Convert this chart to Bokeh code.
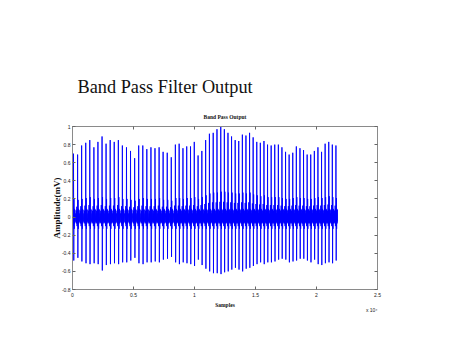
from bokeh.plotting import figure
from bokeh.models import Range1d, LinearAxis, Title, FixedTicker
from bokeh.embed import file_html
from bokeh.resources import INLINE

# ---- data ----
beat_pos = [82, 418, 748, 1086, 1416, 1754, 2084, 2422, 2752, 3090, 3420, 3758, 4088,
            4426, 4756, 5094, 5424, 5762, 6092, 6430, 6760, 7098, 7428, 7766, 8096, 8432,
            8742, 9054, 9362, 9674, 9982, 10294, 10602, 10914, 11222, 11534, 11842, 12152,
            12447, 12744, 13037, 13334, 13627, 13924, 14217, 14514, 14807, 15104, 15397,
            15694, 15987, 16284, 16577, 16874, 17167, 17464, 17757, 18054, 18347, 18644,
            18937, 19234, 19527, 19824, 20117, 20414, 20707, 21004, 21297, 21592]
peaks = [0.70, 0.69, 0.79, 0.82, 0.85, 0.77, 0.83, 0.89, 0.81, 0.85, 0.83, 0.85, 0.79,
         0.77, 0.73, 0.65, 0.79, 0.79, 0.75, 0.77, 0.76, 0.77, 0.72, 0.71, 0.66, 0.80,
         0.81, 0.76, 0.78, 0.78, 0.83, 0.68, 0.73, 0.85, 0.92, 0.93, 0.97, 1.00,
         0.97, 0.93, 0.89, 0.85, 0.84, 0.91, 0.90, 0.93, 0.88, 0.83, 0.82, 0.84, 0.80,
         0.79, 0.80, 0.80, 0.77, 0.72, 0.69, 0.71, 0.78, 0.76, 0.74, 0.69, 0.69, 0.73,
         0.77, 0.72, 0.81, 0.83, 0.80, 0.79]
troughs = [-0.48, -0.45, -0.49, -0.51, -0.52, -0.51, -0.52, -0.59, -0.53, -0.52, -0.51,
           -0.52, -0.50, -0.50, -0.48, -0.45, -0.51, -0.52, -0.50, -0.50, -0.49, -0.50,
           -0.47, -0.46, -0.44, -0.50, -0.52, -0.50, -0.51, -0.52, -0.54, -0.47, -0.53,
           -0.57, -0.60, -0.62, -0.62, -0.63, -0.61, -0.60, -0.58, -0.56, -0.58, -0.60,
           -0.57, -0.56, -0.54, -0.52, -0.50, -0.52, -0.50, -0.50, -0.49, -0.47, -0.46,
           -0.47, -0.50, -0.49, -0.48, -0.46, -0.46, -0.48, -0.50, -0.47, -0.52, -0.53,
           -0.51, -0.50, -0.51, -0.48]
second = [0.20, 0.19, 0.20, 0.21, 0.22, 0.20, 0.21, 0.22, 0.20, 0.21, 0.21, 0.22, 0.20,
          0.20, 0.19, 0.18, 0.20, 0.21, 0.20, 0.20, 0.20, 0.21, 0.19, 0.19, 0.18, 0.21,
          0.21, 0.20, 0.21, 0.21, 0.22, 0.20, 0.22, 0.24, 0.26, 0.27, 0.27, 0.28, 0.28,
          0.27, 0.27, 0.26, 0.26, 0.27, 0.26, 0.27, 0.25, 0.24, 0.23, 0.24, 0.22, 0.22,
          0.22, 0.22, 0.21, 0.20, 0.20, 0.21, 0.22, 0.21, 0.21, 0.20, 0.20, 0.21, 0.22,
          0.21, 0.22, 0.23, 0.22, 0.21]
x_ticks = [0, 5000, 10000, 15000, 20000, 25000]
x_tick_labels = ["0", "0.5", "1", "1.5", "2", "2.5"]
y_ticks = [-0.8, -0.6, -0.4, -0.2, 0, 0.2, 0.4, 0.6, 0.8, 1]
y_tick_labels = ["-0.8", "-0.6", "-0.4", "-0.2", "0", "0.2", "0.4", "0.6", "0.8", "1"]

# ---- build the trace (one polyline through every beat) ----
xs, ys = [], []
for b, pk, tr, s in zip(beat_pos, peaks, troughs, second):
    shape = [(-150, 0.04), (-128, -0.06), (-106, 0.07), (-84, -0.07), (-62, 0.6 * s),
             (-42, -0.10), (-24, 0.09), (-12, -0.08), (0, pk), (22, tr),
             (40, s), (58, -0.13), (76, 0.09), (94, -0.07), (112, 0.08), (130, -0.05)]
    for dx, v in shape:
        xs.append(b + dx)
        ys.append(v)

p = figure(width=474, height=355, output_backend="svg", toolbar_location=None,
           x_range=Range1d(0, 25000), y_range=Range1d(-0.8, 1.0),
           min_border_left=72, min_border_right=97, min_border_top=126,
           min_border_bottom=66,
           title="Band Pass Filter Output")
p.background_fill_color = "white"
p.border_fill_color = "white"
p.outline_line_color = None
p.xgrid.visible = False
p.ygrid.visible = False

p.line(xs, ys, line_color="#0000ff", line_width=0.9)

axis_col = "#8a8a8a"

def style(ax):
    ax.axis_line_color = axis_col
    ax.major_tick_line_color = "#666666"
    ax.major_tick_in = 3
    ax.major_tick_out = 0
    ax.minor_tick_in = 0
    ax.minor_tick_out = 0
    ax.major_label_text_font = "Liberation Sans"
    ax.major_label_text_font_size = "5px"
    ax.major_label_text_color = "#222222"
    ax.axis_label_text_font = "Liberation Serif"
    ax.axis_label_text_font_style = "bold"
    ax.axis_label_text_color = "#111111"

bx = p.xaxis[0]
style(bx)
bx.ticker = FixedTicker(ticks=x_ticks)
bx.major_label_overrides = dict(zip(x_ticks, x_tick_labels))
bx.major_label_standoff = 3
bx.axis_label = "Samples"
bx.axis_label_text_font_size = "5.5px"
bx.axis_label_standoff = 2

ly = p.yaxis[0]
style(ly)
ly.ticker = FixedTicker(ticks=y_ticks)
ly.major_label_overrides = dict(zip(y_ticks, y_tick_labels))
ly.major_label_standoff = 2
ly.axis_label = "Amplitude(mV)"
ly.axis_label_text_font_size = "9px"
ly.axis_label_standoff = -3

tx = LinearAxis(ticker=FixedTicker(ticks=x_ticks))
style(tx)
tx.major_label_overrides = {t: "" for t in x_ticks}
p.add_layout(tx, "above")

ry = LinearAxis(ticker=FixedTicker(ticks=y_ticks))
style(ry)
ry.major_label_overrides = {t: "" for t in y_ticks}
p.add_layout(ry, "right")

# small title of the inner chart
p.add_layout(Title(text="Band Pass Output", align="center",
                   text_font="Liberation Serif", text_font_style="bold",
                   text_font_size="5.5px", text_color="#111111", standoff=13), "above")

# multiplier of the x axis
p.add_layout(Title(text="x 10\u2074", align="right", vertical_align="top",
                   text_font="Liberation Sans", text_font_style="normal",
                   text_font_size="5px", text_color="#222222", standoff=-8), "below")

# slide title
p.title.text_font = "Liberation Serif"
p.title.text_font_style = "normal"
p.title.text_font_size = "18.3px"
p.title.text_color = "#111111"
p.title.align = "left"
p.title.offset = 5
p.title.standoff = 17

open("out.html", "w").write(file_html(p, INLINE))
